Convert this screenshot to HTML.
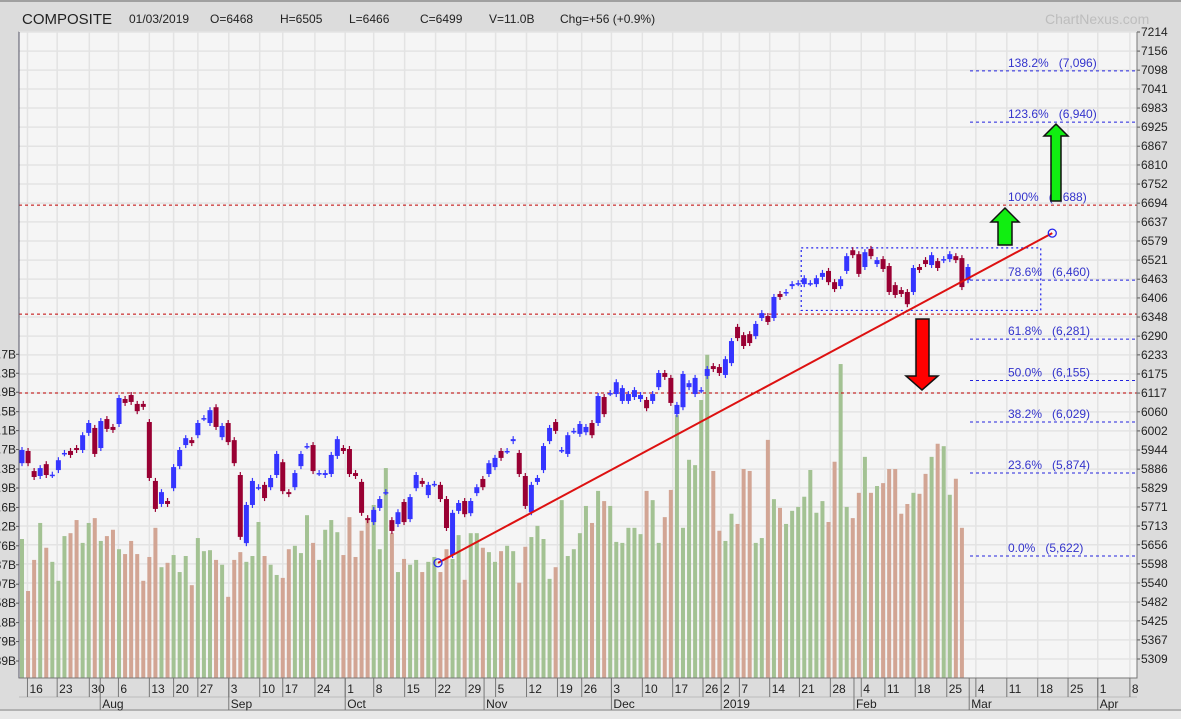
<!DOCTYPE html>
<html><head><meta charset="utf-8"><style>
html,body{margin:0;padding:0;background:#dcdcdc;overflow:hidden;}
svg{display:block;font-family:"Liberation Sans",sans-serif;}
</style></head><body>
<svg id="c" width="1181" height="719" viewBox="0 0 1181 719" xmlns="http://www.w3.org/2000/svg">
<rect x="0" y="0" width="1181" height="719" fill="#dcdcdc"/>
<line x1="0" y1="1" x2="1181" y2="1" stroke="#a0a0a0" stroke-width="2"/>
<g>
<text x="22" y="24" font-size="15" fill="#222">COMPOSITE</text>
<text x="129" y="23" font-size="12" fill="#222">01/03/2019</text>
<text x="210" y="23" font-size="12" fill="#222">O=6468</text>
<text x="280" y="23" font-size="12" fill="#222">H=6505</text>
<text x="349" y="23" font-size="12" fill="#222">L=6466</text>
<text x="420" y="23" font-size="12" fill="#222">C=6499</text>
<text x="489" y="23" font-size="12" fill="#222">V=11.0B</text>
<text x="560" y="23" font-size="12" fill="#222">Chg=+56 (+0.9%)</text>
<text x="1045" y="24" font-size="14" fill="#bdbdbd">ChartNexus.com</text>
</g>
<rect x="19" y="32" width="1118" height="646" fill="#f5f5f5" stroke="#777" stroke-width="1"/>
<g id="grid"></g><g id="vol"></g><g id="over1"></g><g id="candles"></g><g id="over2"></g><g id="axes"></g>
<rect x="0" y="711" width="1181" height="8" fill="#e8e8e8"/>
</svg>
<script>
const priceTicks=[7214,7156,7098,7041,6983,6925,6867,6810,6752,6694,6637,6579,6521,6463,6406,6348,6290,6233,6175,6117,6060,6002,5944,5886,5829,5771,5713,5656,5598,5540,5482,5425,5367,5309];
const volTicks=["6.7B","6.3B","5.9B","5.5B","5.1B","4.7B","4.3B","3.9B","3.6B","3.2B","2.76B","2.37B","1.97B","1.58B","1.18B","0.79B","0.39B"];
const volTickVals=[6.66,6.27,5.88,5.48,5.09,4.70,4.30,3.91,3.51,3.12,2.72,2.33,1.93,1.54,1.14,0.75,0.35];
const dayLabels=["16","23","30","6","13","20","27","3","10","17","24","1","8","15","22","29","5","12","19","26","3","10","17","26","2","7","14","21","28","4","11","18","25","4","11","18","25","1","8"];
const dayIdx=[0.9,5.8,11.1,15.9,21,25,29,34.1,39.2,43,48.3,53.3,58,63.1,68.2,73.2,78.1,83.2,88.3,92.3,97.2,102.3,107.3,112.3,115.3,118.3,123.3,128.2,133.3,138.4,142.3,147.3,152.5,157.3,162.4,167.5,172.5,177.4,182.7];
const monthLabels=["Aug","Sep","Oct","Nov","Dec","2019","Feb","Mar","Apr"];
const monthIdx=[12.9,34.1,53.3,76.2,97.2,115.3,137.2,156.2,177.4];
const opens=[5904,5941,5880,5865,5901,5868,5883,5934,5941,5950,5944,5996,6011,5950,6038,6014,6023,6099,6111,6084,6084,6029,5850,5780,5789,5828,5895,5959,5974,5989,6041,6026,6074,5983,6026,5974,5868,5661,5777,5831,5838,5831,5868,5907,5816,5831,5895,5956,5959,5874,5868,5871,5926,5950,5947,5874,5847,5737,5725,5768,5816,5731,5719,5786,5734,5828,5850,5807,5841,5838,5795,5625,5759,5789,5752,5813,5856,5871,5892,5941,5941,5971,5935,5865,5755,5847,5883,5971,6029,5944,5932,6002,5993,5998,6026,6026,6105,6117,6114,6093,6093,6105,6099,6096,6093,6135,6178,6163,6053,6074,6135,6114,6126,6169,6199,6196,6172,6208,6318,6293,6296,6290,6345,6351,6345,6418,6421,6442,6451,6448,6451,6448,6470,6488,6454,6442,6488,6551,6539,6500,6555,6509,6524,6503,6445,6430,6424,6424,6500,6521,6506,6518,6521,6524,6533,6527,6460];
const closes=[5944,5904,5862,5889,5868,5869,5913,5935,5929,5944,5989,6026,5932,6032,6008,6005,6102,6087,6090,6062,6075,5859,5765,5816,5780,5892,5944,5980,5965,6026,6041,6065,6014,6017,5968,5904,5680,5777,5850,5831,5798,5859,5932,5819,5810,5874,5932,5956,5880,5874,5874,5929,5977,5941,5871,5865,5753,5731,5762,5795,5816,5698,5755,5725,5801,5868,5841,5838,5841,5795,5707,5753,5783,5749,5789,5831,5831,5904,5920,5920,5941,5977,5871,5774,5838,5859,5956,6011,6002,5944,5989,6002,6023,6014,5989,6108,6053,6117,6150,6132,6114,6126,6111,6071,6114,6178,6166,6087,6081,6175,6147,6163,6126,6190,6190,6178,6220,6275,6284,6260,6269,6327,6360,6333,6409,6409,6424,6448,6451,6466,6451,6466,6482,6454,6433,6463,6533,6536,6479,6545,6533,6521,6494,6424,6415,6418,6387,6497,6491,6509,6536,6497,6524,6539,6521,6439,6500];
const volumes=[2.86,1.79,2.43,3.19,2.68,2.39,2.00,2.92,2.98,3.25,2.78,3.19,3.29,2.82,2.92,3.05,2.65,2.55,2.82,2.55,2.00,2.49,3.09,2.28,2.37,2.53,2.18,2.51,1.91,2.88,2.61,2.63,2.43,2.33,1.67,2.43,2.59,2.39,2.51,3.21,2.51,2.33,2.12,2.06,2.65,2.72,2.57,3.35,2.78,2.43,3.05,3.25,3.00,2.53,3.31,2.49,3.03,3.25,3.56,2.65,4.32,2.98,2.18,2.45,2.33,2.43,2.18,2.39,2.49,2.18,2.65,2.45,2.94,2.02,2.98,2.98,2.68,2.59,2.39,
2.61,2.72,2.61,1.96,2.70,2.90,3.13,2.86,2.04,2.28,3.66,2.51,2.65,2.98,3.54,3.19,3.85,3.64,3.54,2.80,2.78,3.09,3.09,2.96,3.85,3.66,2.78,3.31,3.87,5.41,3.09,4.49,4.38,5.72,6.65,4.26,3.03,2.82,3.38,3.17,4.30,4.26,2.78,2.88,4.90,3.68,3.50,3.17,3.44,3.52,3.73,4.28,3.40,3.64,3.21,4.45,6.46,3.52,3.29,3.81,4.55,3.81,3.95,4.01,4.30,4.30,3.38,3.58,3.81,3.79,4.20,4.55,4.82,4.77,3.77,4.10,3.09];
const hLines=[6688,6357,6117];
const fibPct=["138.2%","123.6%","100%","78.6%","61.8%","50.0%","38.2%","23.6%","0.0%"];
const fibVals=[7096,6940,6688,6460,6281,6155,6029,5874,5622];
const trendIdx=[68.6,169.9], trendPrice=[5601,6603];
const boxIdx=[128.5,168], boxPrice=[6558,6368];

const NS="http://www.w3.org/2000/svg";
const L=19,R=1137,T=32,B=678;
const yP=p=>659+(5309-p)*(627/1905);
const xI=i=>22+i*6.064;
const yV=v=>678-v*48.6;
function mk(par,tag,at,txt){const e=document.createElementNS(NS,tag);for(const k in at)e.setAttribute(k,at[k]);if(txt!==undefined)e.textContent=txt;document.getElementById(par).appendChild(e);return e;}
priceTicks.forEach(p=>{const y=yP(p);
 const g=mk('grid','line',{x1:L,x2:R,y1:y,y2:y,stroke:'#e3e3e3','stroke-width':1.5});
 
 
 mk('axes','line',{x1:R,x2:R+3,y1:y,y2:y,stroke:'#555'});
 const t=mk('axes','text',{x:R+4,y:y+4,'font-size':12,fill:'#222'},String(p));
 
 
});
volTickVals.forEach((v,k)=>{const y=yV(v);
 mk('axes','line',{x1:L-3,x2:L,y1:y,y2:y,stroke:'#555'});
 const t=mk('axes','text',{x:L-3,y:y+4,'font-size':12,fill:'#222','text-anchor':'end'},volTicks[k]);
 
 
});
mk('axes','rect',{x:L,y:B,width:R-L,height:32,fill:'#dcdcdc'});
mk('axes','line',{x1:L,x2:R,y1:B,y2:B,stroke:'#777'});
mk('axes','line',{x1:L,x2:R,y1:697,y2:697,stroke:'#bbb'});
mk('axes','line',{x1:0,x2:1181,y1:710,y2:710,stroke:'#888'});
mk('axes','line',{x1:R,x2:R,y1:T,y2:B,stroke:'#777'});
mk('axes','line',{x1:L,x2:L,y1:T,y2:B,stroke:'#556'});
dayIdx.forEach((d,k)=>{const x=xI(d);
 const g=mk('grid','line',{x1:x,x2:x,y1:T,y2:B,stroke:'#e3e3e3','stroke-width':1.5});
 
 
 mk('axes','line',{x1:x,x2:x,y1:B,y2:697,stroke:'#777'});
 const t=mk('axes','text',{x:x+2,y:693,'font-size':12,fill:'#222'},dayLabels[k]);
 
 
});
monthIdx.forEach((d,k)=>{const x=xI(d);
 mk('axes','line',{x1:x,x2:x,y1:B,y2:710,stroke:'#777'});
 const t=mk('axes','text',{x:x+2,y:708,'font-size':12,fill:'#222'},monthLabels[k]);
 
 
});
volumes.forEach((v,i)=>{const up=closes[i]>=opens[i];const y=yV(v);
 const r=mk('vol','rect',{x:xI(i)-2,y:y,width:4,height:B-y,fill:up?'#a3c293':'#d2a594'});
 
 
});
hLines.forEach(p=>{const y=yP(p);
 const l=mk('over1','line',{x1:L,x2:R,y1:y,y2:y,stroke:'#c00000','stroke-dasharray':'3,3'});
 
 
});
fibVals.forEach((p,k)=>{const y=yP(p);
 if(k!==2){const l=mk('over1','line',{x1:970,x2:R,y1:y,y2:y,stroke:'#2222dd','stroke-dasharray':'3,3'});
 
 }
 const t=mk('over2','text',{x:1008,y:y-4,'font-size':12,fill:'#3333cc'},fibPct[k]+'\u00a0\u00a0\u00a0('+p.toLocaleString('en-US')+')');
 
 
});
{const x1=xI(boxIdx[0]),x2=xI(boxIdx[1]),y1=yP(boxPrice[0]),y2=yP(boxPrice[1]);
 const b=mk('over1','rect',{x:x1,y:y1,width:x2-x1,height:y2-y1,fill:'none',stroke:'#2222ee','stroke-dasharray':'2,3','stroke-width':1.2});
 
 }
opens.forEach((o,i)=>{const c=closes[i];const up=c>=o;const x=xI(i);const col=up?'#3535ff':'#990033';
 const top=yP(Math.max(o,c)),bot=yP(Math.min(o,c));
 const w=mk('candles','line',{x1:x,x2:x,y1:top-3,y2:bot+3,stroke:col,'stroke-width':1.2});
 
 
 const r=mk('candles','rect',{x:x-2.5,y:top,width:5,height:Math.max(1.5,bot-top),fill:col});
 
 
});
{const x1=xI(trendIdx[0]),x2=xI(trendIdx[1]),y1=yP(trendPrice[0]),y2=yP(trendPrice[1]);
 const l=mk('over2','line',{x1:x1,y1:y1,x2:x2,y2:y2,stroke:'#dd1111','stroke-width':2});
 
 
 [[x1,y1],[x2,y2]].forEach(p=>{const c=mk('over2','circle',{cx:p[0],cy:p[1],r:4,fill:'none',stroke:'#2222ee','stroke-width':1.3});
 
 });}
function arrow(pts,fill,name){const a=mk('over2','polygon',{points:pts,fill:fill,stroke:'#111','stroke-width':1.5});
 
 }
arrow('1005,208 1019,222 1012,222 1012,245 998,245 998,222 991,222','#11ee11','small-up-arrow');
arrow('1056,124 1068,136 1061,136 1061,201 1051,201 1051,136 1044,136','#11ee11','large-up-arrow');
arrow('916,319 929,319 929,376 938,376 922,390 906,376 916,376','#ff0000','down-arrow');
</script>
</body></html>
